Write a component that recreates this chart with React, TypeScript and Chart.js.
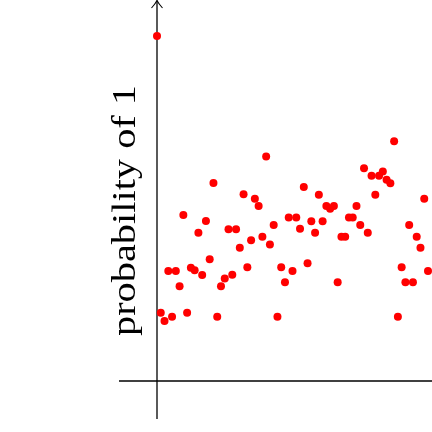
import React, { useEffect, useRef } from "react";
import { Chart, registerables } from "chart.js";

Chart.register(...registerables);

// x: integer index n, y: probability of 1
const nValues: number[] = Array.from({ length: 73 }, (_, i) => i);
const probabilities: number[] = [
  1.0, 0.198, 0.174, 0.319, 0.186, 0.319, 0.275, 0.481, 0.198, 0.328,
  0.321, 0.43, 0.307, 0.464, 0.353, 0.574, 0.186, 0.275, 0.297, 0.44,
  0.308, 0.44, 0.386, 0.541, 0.33, 0.408, 0.528, 0.507, 0.418, 0.651,
  0.396, 0.452, 0.186, 0.33, 0.286, 0.474, 0.319, 0.474, 0.441, 0.562,
  0.341, 0.463, 0.43, 0.54, 0.463, 0.507, 0.499, 0.507, 0.286, 0.418,
  0.418, 0.474, 0.474, 0.507, 0.452, 0.617, 0.43, 0.595, 0.54, 0.595,
  0.607, 0.583, 0.573, 0.695, 0.186, 0.33, 0.286, 0.452, 0.286, 0.418,
  0.386, 0.528, 0.319,
];
const yAxisLabel = "probability of 1";

const axesPlugin = {
  id: "customAxes",
  beforeDatasetsDraw(chart: any) {
    const ctx = chart.ctx;
    const xs = chart.scales.x;
    const ys = chart.scales.y;
    const x0 = xs.getPixelForValue(0);
    const y0 = ys.getPixelForValue(0);
    ctx.save();
    ctx.strokeStyle = "#000";
    ctx.lineWidth = 1.3;
    // vertical axis
    ctx.beginPath();
    ctx.moveTo(x0, y0 + 38);
    ctx.lineTo(x0, 0.5);
    ctx.stroke();
    // arrow head
    ctx.lineWidth = 1.1;
    ctx.beginPath();
    ctx.moveTo(x0 - 5.5, 8);
    ctx.quadraticCurveTo(x0 - 1.5, 3.5, x0, 0.5);
    ctx.quadraticCurveTo(x0 + 1.5, 3.5, x0 + 5.5, 8);
    ctx.stroke();
    // horizontal axis
    ctx.lineWidth = 1.3;
    ctx.beginPath();
    ctx.moveTo(x0 - 38, y0);
    ctx.lineTo(chart.width, y0);
    ctx.stroke();
    // y label
    ctx.fillStyle = "#000";
    ctx.font = "34px 'Liberation Serif', serif";
    const w = ctx.measureText(yAxisLabel).width;
    const targetW = 251;
    ctx.translate(x0 - 22, 210.5);
    ctx.rotate(-Math.PI / 2);
    ctx.scale(targetW / w, 1);
    ctx.textAlign = "center";
    ctx.textBaseline = "alphabetic";
    ctx.fillText(yAxisLabel, 0, 0);
    ctx.restore();
  },
};

export default function App() {
  const ref = useRef<HTMLCanvasElement | null>(null);
  useEffect(() => {
    if (!ref.current) return;
    const chart = new Chart(ref.current, {
      type: "scatter",
      data: {
        datasets: [
          {
            data: nValues.map((n, i) => ({ x: n, y: probabilities[i] })),
            backgroundColor: "#ff0000",
            borderWidth: 0,
            pointRadius: 4,
            pointHoverRadius: 4,
            clip: false as any,
          },
        ],
      },
      options: {
        animation: false,
        responsive: false,
        events: [],
        layout: { padding: { left: 157, right: 1, top: 36, bottom: 51 } },
        scales: {
          x: { type: "linear", min: 0, max: 72, display: false },
          y: { type: "linear", min: 0, max: 1, display: false },
        },
        plugins: {
          legend: { display: false },
          tooltip: { enabled: false },
        },
      },
      plugins: [axesPlugin],
    });
    return () => chart.destroy();
  }, []);
  return (
    <div style={{ position: "fixed", left: 0, top: 0, width: 432, height: 432, background: "#fff" }}>
      <canvas ref={ref} width={432} height={432} style={{ width: 432, height: 432 }} />
    </div>
  );
}
